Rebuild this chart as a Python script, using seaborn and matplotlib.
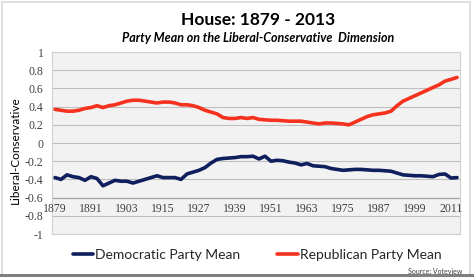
import matplotlib
matplotlib.use("Agg")
import matplotlib.pyplot as plt
import seaborn as sns
import pandas as pd
from matplotlib.patches import Rectangle

years = list(range(1879, 2014, 2))
republican = [0.37, 0.36, 0.35, 0.35, 0.36, 0.38, 0.39, 0.41, 0.39, 0.41,
              0.42, 0.44, 0.46, 0.47, 0.47, 0.46, 0.45, 0.44, 0.45, 0.45,
              0.44, 0.42, 0.42, 0.41, 0.39, 0.36, 0.34, 0.32, 0.28, 0.27,
              0.27, 0.28, 0.27, 0.28, 0.26, 0.255, 0.25, 0.25, 0.245, 0.24,
              0.24, 0.24, 0.23, 0.22, 0.21, 0.22, 0.22, 0.215, 0.21, 0.20,
              0.23, 0.26, 0.29, 0.31, 0.32, 0.33, 0.35, 0.41, 0.46, 0.49,
              0.52, 0.55, 0.58, 0.61, 0.64, 0.68, 0.70, 0.72]
democratic = [-0.38, -0.40, -0.35, -0.37, -0.38, -0.41, -0.37, -0.39, -0.47, -0.44,
              -0.41, -0.42, -0.42, -0.44, -0.42, -0.40, -0.38, -0.36, -0.38, -0.38,
              -0.38, -0.40, -0.34, -0.32, -0.30, -0.27, -0.22, -0.18, -0.17, -0.165,
              -0.16, -0.15, -0.15, -0.145, -0.175, -0.145, -0.20, -0.19, -0.195, -0.21,
              -0.22, -0.24, -0.225, -0.25, -0.255, -0.26, -0.28, -0.29, -0.30, -0.295,
              -0.29, -0.29, -0.295, -0.30, -0.30, -0.305, -0.31, -0.33, -0.35, -0.355,
              -0.36, -0.36, -0.365, -0.37, -0.345, -0.34, -0.385, -0.38]
series_names = ["Democratic Party Mean", "Republican Party Mean"]
colors = ["#0f1f5e", "#f5321e"]
xtick_years = [1879, 1891, 1903, 1915, 1927, 1939, 1951, 1963, 1975, 1987, 1999, 2011]
ytick_vals = [1, 0.8, 0.6, 0.4, 0.2, 0, -0.2, -0.4, -0.6, -0.8, -1]
ytick_labels = ["1", "0.8", "0.6", "0.4", "0.2", "0", "-0.2", "-0.4", "-0.6", "-0.8", "-1"]

df = pd.DataFrame({
    "Year": years * 2,
    "Value": democratic + republican,
    "Party": [series_names[0]] * len(years) + [series_names[1]] * len(years),
})

sns.set_theme(style="white")
plt.rcParams["font.family"] = ["Lato", "DejaVu Sans"]

fig = plt.figure(figsize=(4.74, 2.77), dpi=100)
ax = fig.add_axes([0.1097, 0.1552, 0.8608, 0.657])
ax.set_facecolor("#f2f2f2")

sns.lineplot(data=df, x="Year", y="Value", hue="Party", palette=colors,
             linewidth=2.6, ax=ax, legend=False)

ax.set_xlim(1878, 2014)
ax.set_ylim(-1, 1)
ax.set_yticks(ytick_vals)
ax.set_yticklabels(ytick_labels, family=["Liberation Serif"], fontsize=8.5, color="#404040")
ax.tick_params(axis="y", length=0, pad=6)
ax.set_xticks([])
ax.grid(axis="y", color="#bfbfbf", linewidth=0.8)
ax.set_axisbelow(True)
for s in ax.spines.values():
    s.set_color("#d0d0d0")
    s.set_linewidth(0.8)
ax.axhline(-0.6, color="#a6a6a6", linewidth=0.9, zorder=1)
ax.set_xlabel("")
ax.set_ylabel("")

for yr in xtick_years:
    ax.text(yr, -0.73, str(yr), ha="center", va="center", fontsize=8.5,
            family=["Liberation Serif"], color="#404040")

fig.text(0.032, 0.458, "Liberal-Conservative", rotation=90, ha="center", va="center",
         fontsize=8.5, color="#000000")
fig.text(0.545, 0.928, "House: 1879 - 2013", ha="center", va="center",
         fontsize=12.5, fontweight="bold", color="#000000")
fig.text(0.545, 0.863, "Party Mean on the Liberal-Conservative  Dimension", ha="center",
         va="center", fontsize=9, fontweight="bold", style="italic", color="#000000")

handles = [plt.Line2D([], [], color=c, linewidth=2.6) for c in colors]
fig.legend(handles, series_names, loc="center", bbox_to_anchor=(0.542, 0.079), ncol=2,
           frameon=False, fontsize=10, handlelength=1.5, handletextpad=0.15,
           columnspacing=2.6)

fig.text(0.975, 0.02, "Source: Voteview", ha="right", va="center", fontsize=5, color="#404040")

fig.patches.append(Rectangle((0.004, 0.004), 0.988, 0.99, transform=fig.transFigure,
                             fill=False, edgecolor="#d9d9d9", linewidth=1.2))
fig.patches.append(Rectangle((0, 0), 1, 0.01, transform=fig.transFigure,
                             facecolor="#808080", edgecolor="none"))

fig.savefig("out.png", dpi=100)
